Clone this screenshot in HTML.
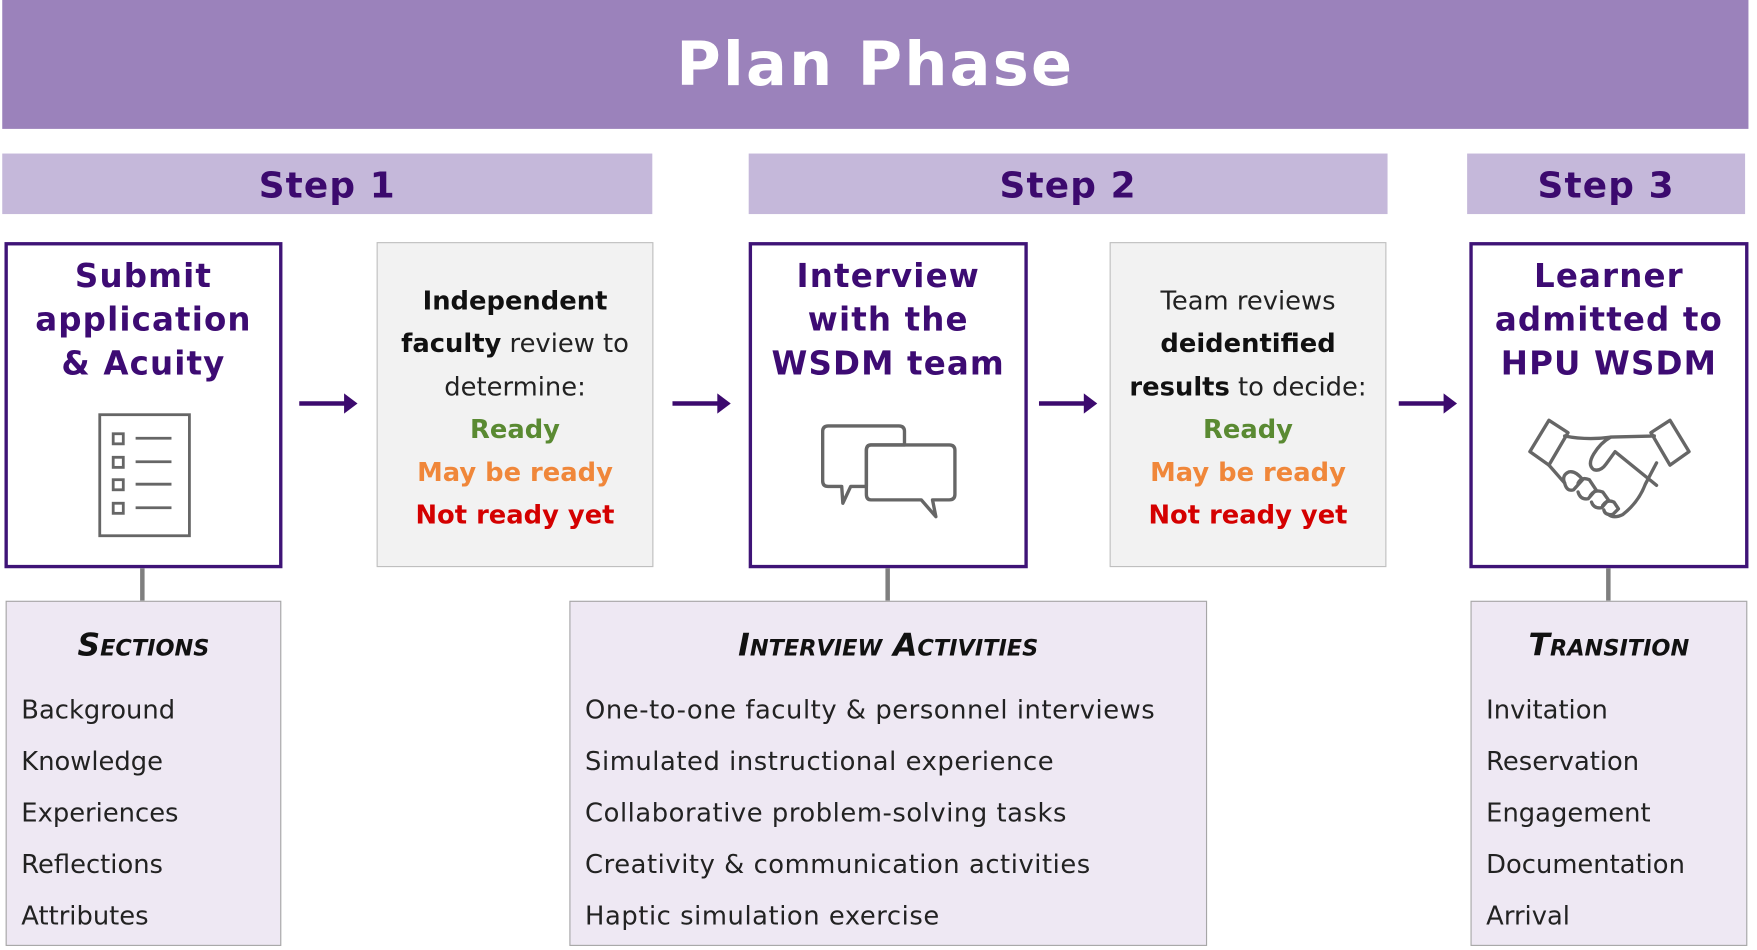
<!DOCTYPE html>
<html><head><meta charset="utf-8"><style>
html,body{margin:0;padding:0;width:1757px;height:950px;overflow:hidden;background:#fff}
#w{position:absolute;left:0;top:0;width:1568px;height:848px;transform:scale(1.1208,1.1208);transform-origin:0 0;font-family:"DejaVu Sans","Liberation Sans",sans-serif}
.a{position:absolute;box-sizing:border-box}
.hdr{left:2px;top:0;width:1558px;height:115px;background:#9b82bb;color:#fff;font-weight:bold;font-size:54px;text-align:center;line-height:115px;letter-spacing:2px}
.step{top:137px;height:54px;background:#c5b8da;color:#3c0a6e;font-weight:bold;font-size:32px;text-align:center;line-height:56px;letter-spacing:1px}
.pb{top:216px;height:291px;border:3px solid #3f1477;background:#fff;text-align:center;color:#3d0b73;font-weight:bold;font-size:29px;line-height:39px;padding-top:8px;letter-spacing:1px}
.gb{top:216px;height:290px;border:1.5px solid #bfbfbf;background:#f2f2f2;text-align:center;color:#222;font-size:23px;line-height:38.3px;padding-top:33px}
.gb b{color:#111}
.g{color:#5a8a32;font-weight:bold}.o{color:#f0873a;font-weight:bold}.r{color:#d40000;font-weight:bold}
.arr{height:4px;background:#3c0a6e}
.arr:after{content:"";position:absolute;right:-8px;top:-7px;border-left:12px solid #3c0a6e;border-top:9px solid transparent;border-bottom:9px solid transparent}
.vl{width:4px;background:#7f7f7f;top:507px;height:29px}
.lb{top:536px;height:308px;background:#eee8f3;border:1.5px solid #a6a6a6;color:#222;font-size:23px}
.lb .t{text-align:center;font-weight:bold;font-style:italic;font-size:28px;margin-top:22px;margin-bottom:19px;color:#111;font-variant:small-caps}
.lb .i{line-height:46px;padding-left:13px;white-space:nowrap}
</style></head><body><div id="w">
<div class="a hdr">Plan Phase</div>
<div class="a step" style="left:2px;width:580px">Step 1</div>
<div class="a step" style="left:668px;width:570px">Step 2</div>
<div class="a step" style="left:1309px;width:248px">Step 3</div>

<div class="a pb" style="left:4px;width:248px">Submit<br>application<br>&amp; Acuity
<svg class="a" style="left:78px;top:148px" width="88" height="116" viewBox="0 0 88 116"><g fill="none" stroke="#666" stroke-width="2.5"><rect x="4" y="3" width="80" height="108"/><rect x="16" y="20" width="9" height="9"/><rect x="16" y="41" width="9" height="9"/><rect x="16" y="61" width="9" height="9"/><rect x="16" y="82" width="9" height="9"/><path d="M36 24H68M36 45H68M36 65H68M36 86H68"/></g></svg></div>

<div class="a gb" style="left:336px;width:247px"><b>Independent<br>faculty</b> review to<br>determine:<br><span class="g">Ready</span><br><span class="o">May be ready</span><br><span class="r">Not ready yet</span></div>

<div class="a pb" style="left:668px;width:249px">Interview<br>with the<br>WSDM team
<svg class="a" style="left:58px;top:158px" width="126" height="90" viewBox="0 0 126 90"><g fill="none" stroke="#666" stroke-width="3" stroke-linejoin="round"><path d="M10 3H73Q78 3 78 8V20H48Q44 20 44 25V57H30L23 72L22 57H10Q5 57 5 52V8Q5 3 10 3Z"/><path d="M48 20H118Q123 20 123 25V64Q123 69 118 69H103L106 84L93 69H48Q44 69 44 64V25Q44 20 48 20Z"/></g></svg></div>

<div class="a gb" style="left:990px;width:247px">Team reviews<br><b>deidentified<br>results</b> to decide:<br><span class="g">Ready</span><br><span class="o">May be ready</span><br><span class="r">Not ready yet</span></div>

<div class="a pb" style="left:1311px;width:249px">Learner<br>admitted to<br>HPU WSDM
<svg class="a" style="left:48px;top:154px" width="148" height="94" viewBox="0 0 148 94"><g fill="none" stroke="#666" stroke-width="3" stroke-linejoin="round" stroke-linecap="round"><path d="M3 30L20 2L37 13L20 42Z"/><path d="M145 30L128 2L111 13L128 42Z"/><path d="M34 16Q54 20 75 17L114 16"/><path d="M75 17Q66 22 60 32Q54 42 60 46Q66 48 71 41L79 30L116 60"/><path d="M116 40L106 59Q100 75 86 86Q78 90 73 86"/><path d="M20 42L34 58"/><path d="M34 58Q31 51 38 48Q44 47 50 55L42 64Q36 66 34 58Z"/><path d="M46 58Q49 52 56 55L62 64L55 72Q48 73 46 66"/><path d="M57 69Q61 63 68 66L73 73L67 80Q60 81 58 75"/><path d="M68 78Q72 72 78 75L82 81L77 86Q70 87 69 82"/></g></svg></div>

<div class="a arr" style="left:267px;top:358px;width:44px"></div>
<div class="a arr" style="left:600px;top:358px;width:44px"></div>
<div class="a arr" style="left:927px;top:358px;width:44px"></div>
<div class="a arr" style="left:1248px;top:358px;width:44px"></div>

<div class="a vl" style="left:125px"></div>
<div class="a vl" style="left:790px"></div>
<div class="a vl" style="left:1433px"></div>

<div class="a lb" style="left:5px;width:246px"><div class="t">Sections</div>
<div class="i">Background</div><div class="i">Knowledge</div><div class="i">Experiences</div><div class="i">Reflections</div><div class="i">Attributes</div></div>

<div class="a lb" style="left:508px;width:569px"><div class="t">Interview Activities</div>
<div class="i" style="letter-spacing:0.5px">One-to-one faculty &amp; personnel interviews</div><div class="i" style="letter-spacing:0.5px">Simulated instructional experience</div><div class="i" style="letter-spacing:0.5px">Collaborative problem-solving tasks</div><div class="i" style="letter-spacing:0.5px">Creativity &amp; communication activities</div><div class="i" style="letter-spacing:0.5px">Haptic simulation exercise</div></div>

<div class="a lb" style="left:1312px;width:247px"><div class="t">Transition</div>
<div class="i">Invitation</div><div class="i">Reservation</div><div class="i">Engagement</div><div class="i">Documentation</div><div class="i">Arrival</div></div>
</div></body></html>
